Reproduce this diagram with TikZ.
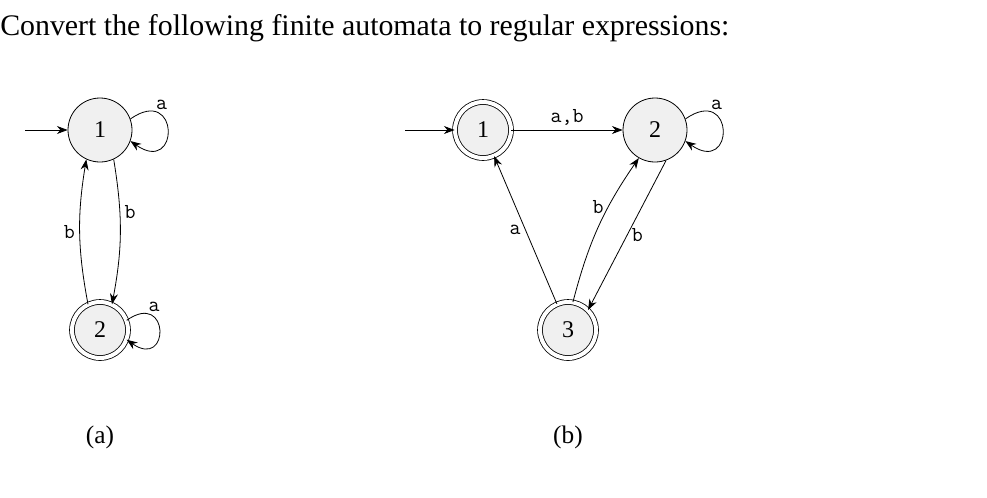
\documentclass[tikz,border=0pt]{standalone}
\usepackage{fontspec}
\setmainfont{Liberation Serif}
\usetikzlibrary{arrows.meta}
\begin{document}
\begin{tikzpicture}[x=0.75pt,y=-0.75pt,
  st/.style={circle,draw,fill=gray!12,minimum size=48pt,inner sep=0pt,line width=0.6pt,font=\fontsize{18}{18}\selectfont},
  acc/.style={st,double,double distance=3pt,minimum size=42pt},
  lab/.style={font=\ttfamily\fontsize{16}{16}\selectfont},
  e/.style={-{Stealth[length=8pt,width=6pt]},line width=0.6pt},
  lp/.style={e,out=35,in=-35,looseness=7}]
\useasboundingbox (0,0) rectangle (987,497);
\node[anchor=west,inner sep=0pt,font=\fontsize{22.4}{22.4}\selectfont] (t) at (0,28) {Convert the following finite automata to regular expressions:};
% (a)
\node[st] (a1) at (100,130) {1};
\node[acc] (a2) at (100,330) {2};
\coordinate (as) at (25,130);
\draw[e] (as) -- (a1);
\draw[e] (a1.-65) to[bend left=10] node[lab,right,pos=0.35]{b} (a2.65);
\draw[e] (a2.115) to[bend left=10] node[lab,left]{b} (a1.-115);
\draw[lp] (a1.20) to node[lab,above,pos=0.3]{a} (a1.-20);
\draw[lp] (a2.20) to node[lab,above,pos=0.3]{a} (a2.-20);
\node[font=\fontsize{19}{19}\selectfont] (la) at (100,437) {(a)};
% (b)
\node[acc] (b1) at (483,130) {1};
\node[st] (b2) at (655,130) {2};
\node[acc] (b3) at (568,330) {3};
\coordinate (bs) at (405,130);
\draw[e] (bs) -- (b1);
\draw[e] (b1) -- node[lab,above]{a,b} (b2);
\draw[e] (b3) -- node[lab,left]{a} (b1);
\draw[e] (b3.80) to[bend left=10] node[lab,left,pos=0.65]{b} (b2.-120);
\draw[e] (b2.-70) -- node[lab,right]{b} (b3.45);
\draw[lp] (b2.20) to node[lab,above,pos=0.3]{a} (b2.-20);
\node[font=\fontsize{19}{19}\selectfont] (lb) at (568,437) {(b)};
\end{tikzpicture}
\end{document}
